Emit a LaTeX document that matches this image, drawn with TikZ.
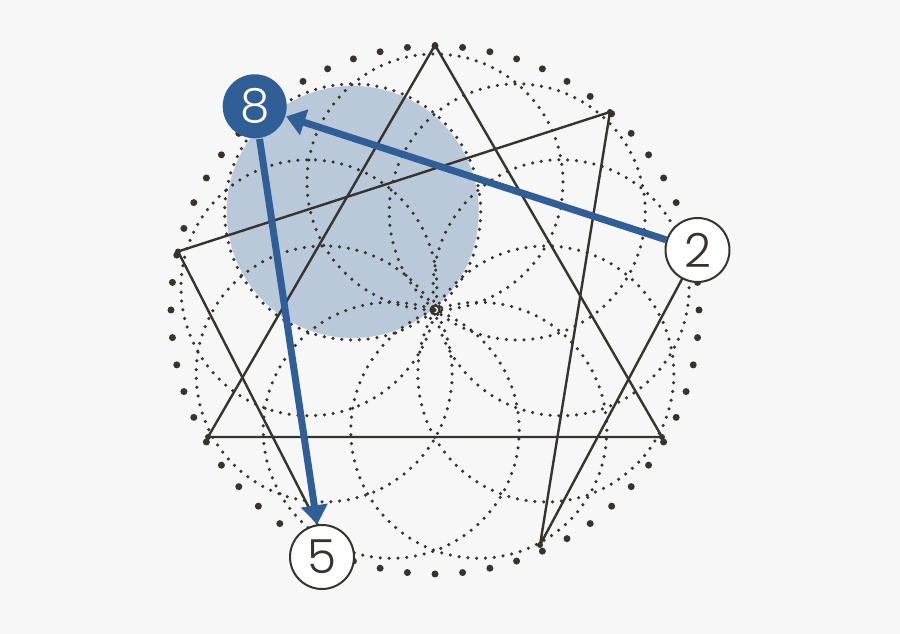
\documentclass[tikz,border=0pt]{standalone}
\usepackage{fontspec}
\newfontfamily\numfont{Poppins}[UprightFont={* Light}]
\usetikzlibrary{arrows.meta}
\definecolor{ink}{HTML}{37332F}
\definecolor{nineblue}{HTML}{2F5F96}
\definecolor{paleblue}{HTML}{B9C9DA}
\definecolor{paper}{HTML}{F7F7F7}
\tikzset{
  seed/.style={ink, line width=3.5pt, line cap=round, dash pattern=on 0pt off 8.84pt},
  figline/.style={ink, line width=2.4pt, line join=round},
  move/.style={nineblue, line width=7pt, -{Triangle[length=19pt,width=26pt]}},
  typenode/.style={circle, minimum size=64pt, inner sep=0pt, draw=ink, line width=2pt,
    fill=white, text=ink, font=\numfont\fontsize{47}{47}\selectfont}
}

\begin{document}
\begin{tikzpicture}[x=1pt,y=1pt]
   \useasboundingbox (0,0) rectangle (900,634);
   \fill[paper] (0,0) rectangle (900,634);
   \begin{scope}[shift={(435,324)}]
    \fill[paleblue] (130:128pt) circle(126pt);
    \foreach \a in {90,50,10,-30,-70,-110,-150,-190,-230}
      \draw[seed] (\a:128pt) circle(128pt);
    \foreach \a in {0,6,...,354}
      \fill[ink] (\a:264pt) circle(3.5pt);
    \draw[ink, line width=2pt] (0,0) circle(4.5pt);
   \end{scope}
   \coordinate (p9) at (435,589);
   \coordinate (p1) at (610,522);
   \coordinate (p2) at (697.5,384);
   \coordinate (p3) at (662,197);
   \coordinate (p4) at (540,89);
   \coordinate (p5) at (328,89);
   \coordinate (p6) at (208,197);
   \coordinate (p7) at (178,382.5);
   \coordinate (p8) at (254.7,527.7);
   \draw[figline] (p9) -- (p3) -- (p6) -- cycle;
   \draw[figline] (p5) -- (p7) -- (p1) -- (p4) -- (p2);
   \foreach \p in {p9,p1,p3,p4,p6,p7}
     \fill[ink] (\p) circle(3pt);
   \node[typenode] (n2) at (p2) {2};
   \node[typenode] (n5) at (322,77) {5};
   \node[typenode, fill=nineblue, draw=none, text=white] (n8) at (p8) {8};
   \draw[move] (n2) -- (n8);
   \draw[move] (n8) -- (n5);
\end{tikzpicture}
\end{document}
